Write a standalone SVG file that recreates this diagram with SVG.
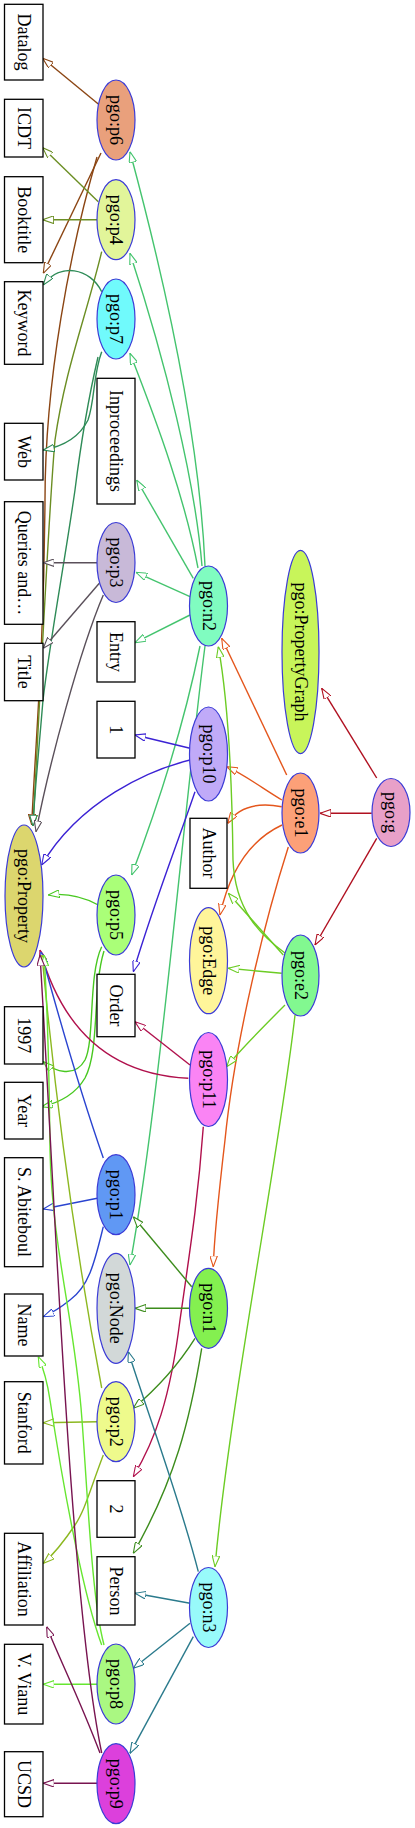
<svg xmlns="http://www.w3.org/2000/svg" width="415" height="1828" viewBox="0 0 415 1828">
<style>
text{font-family:"Liberation Serif","Times New Roman",serif;font-size:18px;fill:#000;text-anchor:middle;dominant-baseline:central}
.box{fill:#fff;stroke:#000;stroke-width:1.3}
.ell{stroke:#3b3bd6;stroke-width:1.2}
.e path{fill:none;stroke-width:1.4}
</style>
<defs>
<marker id="a-p6" viewBox="0 0 10 7" refX="10" refY="3.5" markerWidth="11" markerHeight="8" markerUnits="userSpaceOnUse" orient="auto"><path d="M0,0L10,3.5L0,7z" fill="#fff" stroke="#8b4513"/></marker>
<marker id="a-p4" viewBox="0 0 10 7" refX="10" refY="3.5" markerWidth="11" markerHeight="8" markerUnits="userSpaceOnUse" orient="auto"><path d="M0,0L10,3.5L0,7z" fill="#fff" stroke="#6b8e23"/></marker>
<marker id="a-p7" viewBox="0 0 10 7" refX="10" refY="3.5" markerWidth="11" markerHeight="8" markerUnits="userSpaceOnUse" orient="auto"><path d="M0,0L10,3.5L0,7z" fill="#fff" stroke="#2e8b57"/></marker>
<marker id="a-n2" viewBox="0 0 10 7" refX="10" refY="3.5" markerWidth="11" markerHeight="8" markerUnits="userSpaceOnUse" orient="auto"><path d="M0,0L10,3.5L0,7z" fill="#fff" stroke="#44c46e"/></marker>
<marker id="a-p3" viewBox="0 0 10 7" refX="10" refY="3.5" markerWidth="11" markerHeight="8" markerUnits="userSpaceOnUse" orient="auto"><path d="M0,0L10,3.5L0,7z" fill="#fff" stroke="#5a505a"/></marker>
<marker id="a-p10" viewBox="0 0 10 7" refX="10" refY="3.5" markerWidth="11" markerHeight="8" markerUnits="userSpaceOnUse" orient="auto"><path d="M0,0L10,3.5L0,7z" fill="#fff" stroke="#3b22d4"/></marker>
<marker id="a-e1" viewBox="0 0 10 7" refX="10" refY="3.5" markerWidth="11" markerHeight="8" markerUnits="userSpaceOnUse" orient="auto"><path d="M0,0L10,3.5L0,7z" fill="#fff" stroke="#e4561c"/></marker>
<marker id="a-g" viewBox="0 0 10 7" refX="10" refY="3.5" markerWidth="11" markerHeight="8" markerUnits="userSpaceOnUse" orient="auto"><path d="M0,0L10,3.5L0,7z" fill="#fff" stroke="#b01020"/></marker>
<marker id="a-e2" viewBox="0 0 10 7" refX="10" refY="3.5" markerWidth="11" markerHeight="8" markerUnits="userSpaceOnUse" orient="auto"><path d="M0,0L10,3.5L0,7z" fill="#fff" stroke="#6ccc24"/></marker>
<marker id="a-p5" viewBox="0 0 10 7" refX="10" refY="3.5" markerWidth="11" markerHeight="8" markerUnits="userSpaceOnUse" orient="auto"><path d="M0,0L10,3.5L0,7z" fill="#fff" stroke="#48c820"/></marker>
<marker id="a-p11" viewBox="0 0 10 7" refX="10" refY="3.5" markerWidth="11" markerHeight="8" markerUnits="userSpaceOnUse" orient="auto"><path d="M0,0L10,3.5L0,7z" fill="#fff" stroke="#b0104c"/></marker>
<marker id="a-p1" viewBox="0 0 10 7" refX="10" refY="3.5" markerWidth="11" markerHeight="8" markerUnits="userSpaceOnUse" orient="auto"><path d="M0,0L10,3.5L0,7z" fill="#fff" stroke="#2a44d0"/></marker>
<marker id="a-n1" viewBox="0 0 10 7" refX="10" refY="3.5" markerWidth="11" markerHeight="8" markerUnits="userSpaceOnUse" orient="auto"><path d="M0,0L10,3.5L0,7z" fill="#fff" stroke="#3c8c1c"/></marker>
<marker id="a-p2" viewBox="0 0 10 7" refX="10" refY="3.5" markerWidth="11" markerHeight="8" markerUnits="userSpaceOnUse" orient="auto"><path d="M0,0L10,3.5L0,7z" fill="#fff" stroke="#8cb820"/></marker>
<marker id="a-n3" viewBox="0 0 10 7" refX="10" refY="3.5" markerWidth="11" markerHeight="8" markerUnits="userSpaceOnUse" orient="auto"><path d="M0,0L10,3.5L0,7z" fill="#fff" stroke="#2a7a8c"/></marker>
<marker id="a-p8" viewBox="0 0 10 7" refX="10" refY="3.5" markerWidth="11" markerHeight="8" markerUnits="userSpaceOnUse" orient="auto"><path d="M0,0L10,3.5L0,7z" fill="#fff" stroke="#66e630"/></marker>
<marker id="a-p9" viewBox="0 0 10 7" refX="10" refY="3.5" markerWidth="11" markerHeight="8" markerUnits="userSpaceOnUse" orient="auto"><path d="M0,0L10,3.5L0,7z" fill="#fff" stroke="#781450"/></marker>
</defs>
<rect width="415" height="1828" fill="#fff"/>

<g id="edges" class="e">
<g stroke="#8b4513">
<path marker-end="url(#a-p6)" d="M98.3,104L42.7,58.3"/>
<path marker-end="url(#a-p6)" d="M101,153L43.3,273.3"/>
<path marker-end="url(#a-p6)" d="M97,157C70,250 45,380 45,500C44,650 35,750 31.7,825"/>
</g>
<g stroke="#6b8e23">
<path marker-end="url(#a-p4)" d="M98.3,201.7L42.7,147.7"/>
<path marker-end="url(#a-p4)" d="M97,219.7L42.7,219.7"/>
<path marker-end="url(#a-p4)" d="M101.7,251.7C85,320 65,370 55,440C48,520 40,700 33,826"/>
</g>
<g stroke="#2e8b57">
<path marker-end="url(#a-p7)" d="M101.7,291.7C90,268 60,262 43.3,285"/>
<path marker-end="url(#a-p7)" d="M101.7,351.7C93,375 95,400 88,420C78,440 60,447 43.3,450"/>
<path marker-end="url(#a-p7)" d="M98,357C88,400 80,450 75,490C65,560 50,640 43,700C38,760 34,800 33,826"/>
</g>
<g stroke="#44c46e">
<path marker-end="url(#a-n2)" d="M205,566C200,450 170,300 130,151.7"/>
<path marker-end="url(#a-n2)" d="M202,566C195,480 165,360 130,253.3"/>
<path marker-end="url(#a-n2)" d="M198,568C185,500 160,430 130,353.3"/>
<path marker-end="url(#a-n2)" d="M193.3,578.3L136.7,480"/>
<path marker-end="url(#a-n2)" d="M190,596.7L136,572.3"/>
<path marker-end="url(#a-n2)" d="M190,615L135,642.7"/>
<path marker-end="url(#a-n2)" d="M200,646C185,720 160,800 131.7,875"/>
<path marker-end="url(#a-n2)" d="M205,646C185,800 160,1100 130,1265"/>
</g>
<g stroke="#5a505a">
<path marker-end="url(#a-p3)" d="M97,562.7L43.3,562.7"/>
<path marker-end="url(#a-p3)" d="M99.3,583.3L43.3,648.3"/>
<path marker-end="url(#a-p3)" d="M103.3,595C80,650 50,760 36,831.7"/>
</g>
<g stroke="#e4561c">
<path marker-end="url(#a-e1)" d="M286.7,775L221.7,638.3"/>
<path marker-end="url(#a-e1)" d="M282,800C265,790 245,775 226.7,766.7"/>
<path marker-end="url(#a-e1)" d="M281.7,806.7C262,803 240,805 227.7,823.3"/>
<path marker-end="url(#a-e1)" d="M282,825C250,840 230,870 220,915"/>
<path marker-end="url(#a-e1)" d="M288.3,847C265,920 235,1040 225,1140C218,1200 214,1240 213.3,1266.7"/>
</g>
<g stroke="#b01020">
<path marker-end="url(#a-g)" d="M376.7,778L321.7,688.3"/>
<path marker-end="url(#a-g)" d="M371.7,813.3L320,813.3"/>
<path marker-end="url(#a-g)" d="M376.7,838.3L315,945"/>
</g>
<g stroke="#6ccc24">
<path marker-end="url(#a-e2)" d="M285,953C260,935 235,910 233,860C232,780 228,700 218.3,646.7"/>
<path marker-end="url(#a-e2)" d="M283.3,955L228.3,893.3"/>
<path marker-end="url(#a-e2)" d="M281.7,973.3L228.3,968.3"/>
<path marker-end="url(#a-e2)" d="M285,1005C260,1030 240,1050 226.7,1066.7"/>
<path marker-end="url(#a-e2)" d="M295,1015C280,1150 230,1400 215,1566.7"/>
</g>
<g stroke="#3b22d4">
<path marker-end="url(#a-p10)" d="M190,748.3L135,735"/>
<path marker-end="url(#a-p10)" d="M190,760C150,770 80,800 41.7,865"/>
<path marker-end="url(#a-p10)" d="M195,791.7C175,850 155,900 133.3,971.7"/>
</g>
<g stroke="#48c820">
<path marker-end="url(#a-p5)" d="M98.3,905C80,895 65,893 48.3,895"/>
<path marker-end="url(#a-p5)" d="M101.7,946.7C88,975 95,1040 85,1060C75,1078 55,1072 43.3,1061.7"/>
<path marker-end="url(#a-p5)" d="M104,951C92,990 100,1050 85,1078C75,1095 58,1103 41.7,1106.7"/>
</g>
<g stroke="#b0104c">
<path marker-end="url(#a-p11)" d="M190,1065L135,1021.7"/>
<path marker-end="url(#a-p11)" d="M188.3,1078.3C120,1075 65,1040 40,950"/>
<path marker-end="url(#a-p11)" d="M203.3,1126.7C198,1200 190,1250 180,1320C170,1400 155,1440 133.3,1476.7"/>
</g>
<g stroke="#2a44d0">
<path marker-end="url(#a-p1)" d="M103.3,1158C90,1120 65,1040 41,952"/>
<path marker-end="url(#a-p1)" d="M97.3,1198.3L43.3,1209"/>
<path marker-end="url(#a-p1)" d="M103.3,1226.7C95,1260 90,1285 70,1300C60,1308 52,1313 43.3,1316.7"/>
</g>
<g stroke="#3c8c1c">
<path marker-end="url(#a-n1)" d="M191.7,1286.7L133.3,1216.7"/>
<path marker-end="url(#a-n1)" d="M190,1308.3L135,1308.3"/>
<path marker-end="url(#a-n1)" d="M195,1338.3C175,1370 155,1390 133.3,1408.3"/>
<path marker-end="url(#a-n1)" d="M201.7,1348.3C190,1420 175,1480 133.3,1553.3"/>
</g>
<g stroke="#8cb820">
<path marker-end="url(#a-p2)" d="M97.3,1421.7L43.3,1422.7"/>
<path marker-end="url(#a-p2)" d="M103.3,1455C90,1490 85,1510 75,1525C65,1540 55,1553 43.3,1563.3"/>
<path marker-end="url(#a-p2)" d="M101.7,1388C85,1300 60,1150 42,955"/>
</g>
<g stroke="#2a7a8c">
<path marker-end="url(#a-n3)" d="M198.3,1571.7C180,1500 150,1420 128.3,1351.7"/>
<path marker-end="url(#a-n3)" d="M190,1603.3L135,1593.3"/>
<path marker-end="url(#a-n3)" d="M190,1623.3L133.3,1668.3"/>
<path marker-end="url(#a-n3)" d="M193.3,1636.7L130,1753.3"/>
</g>
<g stroke="#66e630">
<path marker-end="url(#a-p8)" d="M97.3,1684.3L43.3,1684.3"/>
<path marker-end="url(#a-p8)" d="M101.7,1645C85,1600 65,1500 50,1400C47,1380 42,1365 38.3,1356.7"/>
<path marker-end="url(#a-p8)" d="M104,1645C92,1600 88,1500 82,1420C75,1320 52,1250 50,1150C49,1050 47,1000 44,955"/>
</g>
<g stroke="#781450">
<path marker-end="url(#a-p9)" d="M97.3,1783.3L43.3,1783.3"/>
<path marker-end="url(#a-p9)" d="M100,1753C80,1700 60,1660 46.7,1626.7"/>
<path marker-end="url(#a-p9)" d="M101.7,1753C70,1600 55,1200 40,955"/>
</g>
</g>

<g id="Datalog"><rect class="box" x="4.5" y="4.3" width="38.5" height="75.7"/><text transform="translate(23.7,42) rotate(90)">Datalog</text></g>
<g id="ICDT"><rect class="box" x="4.5" y="99.3" width="38.5" height="57.7"/><text transform="translate(23.7,128) rotate(90)">ICDT</text></g>
<g id="Booktitle"><rect class="box" x="4.5" y="176.7" width="38.5" height="86"/><text transform="translate(23.7,219.7) rotate(90)">Booktitle</text></g>
<g id="Keyword"><rect class="box" x="4.5" y="281.7" width="38.5" height="82.6"/><text transform="translate(23.7,323) rotate(90)">Keyword</text></g>
<g id="Web"><rect class="box" x="4.5" y="423.3" width="38.5" height="56.7"/><text transform="translate(23.7,451.7) rotate(90)">Web</text></g>
<g id="Queries"><rect class="box" x="4.5" y="501.7" width="38.5" height="122.6"/><text transform="translate(23.7,563) rotate(90)">Queries and…</text></g>
<g id="Title"><rect class="box" x="4.5" y="643.3" width="38.5" height="57.4"/><text transform="translate(23.7,672) rotate(90)">Title</text></g>
<g id="v1997"><rect class="box" x="4.5" y="1006.7" width="38.5" height="57.3"/><text transform="translate(23.7,1035.3) rotate(90)">1997</text></g>
<g id="Year"><rect class="box" x="4.5" y="1082.3" width="38.5" height="56.7"/><text transform="translate(23.7,1110.7) rotate(90)">Year</text></g>
<g id="Abiteboul"><rect class="box" x="4.5" y="1157.7" width="38.5" height="109"/><text transform="translate(23.7,1212) rotate(90)">S. Abiteboul</text></g>
<g id="Name"><rect class="box" x="4.5" y="1294" width="38.5" height="62"/><text transform="translate(23.7,1325) rotate(90)">Name</text></g>
<g id="Stanford"><rect class="box" x="4.5" y="1381.7" width="38.5" height="82.3"/><text transform="translate(23.7,1422.8) rotate(90)">Stanford</text></g>
<g id="Affiliation"><rect class="box" x="4.5" y="1533.3" width="38.5" height="91.7"/><text transform="translate(23.7,1579) rotate(90)">Affiliation</text></g>
<g id="Vianu"><rect class="box" x="4.5" y="1644.3" width="38.5" height="79.7"/><text transform="translate(23.7,1684) rotate(90)">V. Vianu</text></g>
<g id="UCSD"><rect class="box" x="4.5" y="1751.7" width="38.5" height="65"/><text transform="translate(23.7,1784) rotate(90)">UCSD</text></g>

<g id="Inproceedings"><rect class="box" x="97" y="378.3" width="38" height="125.7"/><text transform="translate(116,441) rotate(90)">Inproceedings</text></g>
<g id="Entry"><rect class="box" x="97" y="621.7" width="38" height="60.3"/><text transform="translate(116,652) rotate(90)">Entry</text></g>
<g id="v1"><rect class="box" x="97" y="701.3" width="38" height="56.7"/><text transform="translate(116,729.7) rotate(90)">1</text></g>
<g id="Order"><rect class="box" x="97" y="974.3" width="38" height="62.4"/><text transform="translate(116,1005.5) rotate(90)">Order</text></g>
<g id="v2"><rect class="box" x="97" y="1480.7" width="38" height="56.6"/><text transform="translate(116,1509) rotate(90)">2</text></g>
<g id="Person"><rect class="box" x="97" y="1556.7" width="38" height="68.3"/><text transform="translate(116,1591) rotate(90)">Person</text></g>
<g id="Author"><rect class="box" x="190" y="818.3" width="37" height="70"/><text transform="translate(208.5,853) rotate(90)">Author</text></g>

<g id="p6"><ellipse class="ell" cx="116" cy="120" rx="19" ry="40" fill="#e9a07c"/><text transform="translate(116,120) rotate(90)">pgo:p6</text></g>
<g id="p4"><ellipse class="ell" cx="116" cy="219.7" rx="19" ry="40" fill="#e2f59a"/><text transform="translate(116,219.7) rotate(90)">pgo:p4</text></g>
<g id="p7"><ellipse class="ell" cx="116" cy="319" rx="19" ry="40" fill="#70fafc"/><text transform="translate(116,319) rotate(90)">pgo:p7</text></g>
<g id="p3"><ellipse class="ell" cx="116" cy="562.5" rx="19" ry="40" fill="#c8b9d8"/><text transform="translate(116,562.5) rotate(90)">pgo:p3</text></g>
<g id="p5"><ellipse class="ell" cx="116" cy="915" rx="19" ry="40" fill="#aaff78"/><text transform="translate(116,915) rotate(90)">pgo:p5</text></g>
<g id="p1"><ellipse class="ell" cx="116" cy="1194.7" rx="19" ry="40" fill="#6098f4"/><text transform="translate(116,1194.7) rotate(90)">pgo:p1</text></g>
<g id="Node"><ellipse class="ell" cx="116" cy="1308.3" rx="19" ry="55" fill="#d2d8d8"/><text transform="translate(116,1308.3) rotate(90)">pgo:Node</text></g>
<g id="p2"><ellipse class="ell" cx="116" cy="1421.7" rx="19" ry="40" fill="#eefa8c"/><text transform="translate(116,1421.7) rotate(90)">pgo:p2</text></g>
<g id="p8"><ellipse class="ell" cx="116" cy="1684" rx="19" ry="40" fill="#aaf882"/><text transform="translate(116,1684) rotate(90)">pgo:p8</text></g>
<g id="p9"><ellipse class="ell" cx="116" cy="1783.7" rx="19" ry="40" fill="#dc40dc"/><text transform="translate(116,1783.7) rotate(90)">pgo:p9</text></g>
<g id="Property"><ellipse class="ell" cx="24" cy="896" rx="19" ry="71" fill="#dcd66e"/><text transform="translate(24,896) rotate(90)">pgo:Property</text></g>

<g id="n2"><ellipse class="ell" cx="208.5" cy="606" rx="19" ry="40" fill="#80fcc0"/><text transform="translate(208.5,606) rotate(90)">pgo:n2</text></g>
<g id="p10"><ellipse class="ell" cx="208.5" cy="754" rx="19" ry="47" fill="#c0aaf8"/><text transform="translate(208.5,754) rotate(90)">pgo:p10</text></g>
<g id="Edge"><ellipse class="ell" cx="208.5" cy="960.7" rx="19" ry="53" fill="#fff59a"/><text transform="translate(208.5,960.7) rotate(90)">pgo:Edge</text></g>
<g id="p11"><ellipse class="ell" cx="208.5" cy="1079.5" rx="19" ry="47" fill="#fa84f4"/><text transform="translate(208.5,1079.5) rotate(90)">pgo:p11</text></g>
<g id="n1"><ellipse class="ell" cx="208.5" cy="1308.3" rx="19" ry="40" fill="#84f050"/><text transform="translate(208.5,1308.3) rotate(90)">pgo:n1</text></g>
<g id="n3"><ellipse class="ell" cx="208.5" cy="1607.5" rx="19" ry="40" fill="#98fafa"/><text transform="translate(208.5,1607.5) rotate(90)">pgo:n3</text></g>

<g id="PropertyGraph"><ellipse class="ell" cx="300.5" cy="652" rx="18.5" ry="101.7" fill="#c8f55a"/><text transform="translate(300.5,652) rotate(90)">pgo:PropertyGraph</text></g>
<g id="e1"><ellipse class="ell" cx="300.5" cy="813" rx="18.5" ry="40" fill="#fca078"/><text transform="translate(300.5,813) rotate(90)">pgo:e1</text></g>
<g id="e2"><ellipse class="ell" cx="300.5" cy="975.5" rx="18.5" ry="40.5" fill="#82f890"/><text transform="translate(300.5,975.5) rotate(90)">pgo:e2</text></g>
<g id="g"><ellipse class="ell" cx="391" cy="812.5" rx="19" ry="34" fill="#e8a0c8"/><text transform="translate(391,812.5) rotate(90)">pgo:g</text></g>
</svg>
